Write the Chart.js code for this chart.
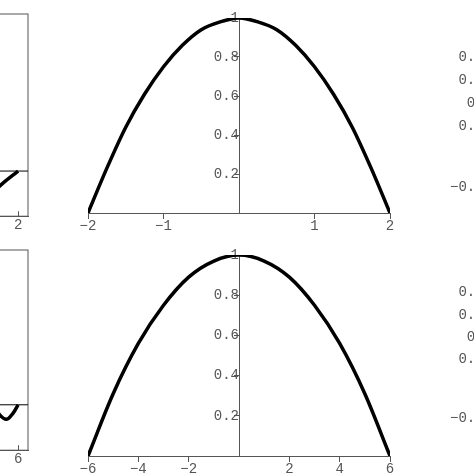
<!DOCTYPE html>
<html><head><script src="https://cdn.jsdelivr.net/npm/chart.js@4"></script>
<style>body{margin:0;width:474px;height:474px;overflow:hidden;background:#fff;position:relative}
.c{position:absolute}</style></head><body>
<div class="c" style="left:60px;top:0;width:350px;height:240px"><canvas id="topMid"></canvas></div>
<div class="c" style="left:60px;top:240px;width:350px;height:234px"><canvas id="botMid"></canvas></div>
<div class="c" style="left:-180px;top:0;width:210px;height:240px"><canvas id="topLeft"></canvas></div>
<div class="c" style="left:-180px;top:240px;width:210px;height:234px"><canvas id="botLeft"></canvas></div>
<div class="c" style="left:410px;top:0;width:200px;height:240px"><canvas id="topRight"></canvas></div>
<div class="c" style="left:410px;top:240px;width:200px;height:234px"><canvas id="botRight"></canvas></div>
<script>
const topX = [-2, -1.75, -1.5, -1.25, -1, -0.75, -0.5, -0.25, 0, 0.25, 0.5, 0.75, 1, 1.25, 1.5, 1.75, 2];
const topY = [0, 0.23, 0.44, 0.61, 0.75, 0.86, 0.94, 0.98, 1, 0.98, 0.94, 0.86, 0.75, 0.61, 0.44, 0.23, 0];
const botX = [-6, -5, -4, -3, -2, -1, 0, 1, 2, 3, 4, 5, 6];
const botY = [0, 0.31, 0.56, 0.75, 0.89, 0.97, 1, 0.97, 0.89, 0.75, 0.56, 0.31, 0];
const topXTicks = [-2, -1, 1, 2];
const botXTicks = [-6, -4, -2, 2, 4, 6];
const yTicks = [0.2, 0.4, 0.6, 0.8, 1];
const leftTopX = [1.55, 1.7, 1.85, 2];
const leftTopY = [-0.19, -0.13, -0.06, 0];
const leftBotX = [5.25, 5.45, 5.65, 5.85, 6];
const leftBotY = [0, -0.05, -0.07, -0.04, 0];
const rightTicks = [-0.165, 0.1, 0.2, 0.3, 0.4];
const rightLabels = ["\u22120.2", "0.1", "0 ", "0.3", "0.4"];

const font = {family: "Liberation Mono", size: 14};
const ink = "#555";

function pts(xs, ys) { return xs.map((x, i) => ({x: x, y: ys[i]})); }

function midChart(id, xs, ys, xt, xmin, xmax, pad) {
  new Chart(document.getElementById(id), {
    type: "line",
    data: {datasets: [{data: pts(xs, ys), borderColor: "#000", borderWidth: 3.5, pointRadius: 0, cubicInterpolationMode: "monotone"}]},
    options: {
      animation: false, responsive: true, maintainAspectRatio: false,
      layout: {padding: pad},
      plugins: {legend: {display: false}, tooltip: {enabled: false}},
      scales: {
        x: {type: "linear", position: {y: 0}, min: xmin, max: xmax,
          afterBuildTicks: s => { s.ticks = xt.map(v => ({value: v})); },
          grid: {drawOnChartArea: false, tickLength: 5, color: ink},
          border: {color: ink}, ticks: {color: ink, font: font, padding: 0,
            callback: v => v < 0 ? "\u2212" + (-v) : String(v)}},
        y: {type: "linear", position: {x: 0}, min: 0, max: 1,
          afterBuildTicks: s => { s.ticks = yTicks.map(v => ({value: v})); },
          grid: {drawOnChartArea: false, tickLength: 5, color: ink},
          border: {color: ink}, ticks: {color: ink, font: font, padding: 0,
            callback: v => v === 1 ? "1" : String(v)}}
      }
    }
  });
}
midChart("topMid", topX, topY, topXTicks, -2, 2, {left: 28, right: 20, top: 18, bottom: 27});
midChart("botMid", botX, botY, botXTicks, -6, 6, {left: 28, right: 20, top: 15, bottom: 18});

const frame = {id: "frame", afterDraw(c) {
  const a = c.chartArea, g = c.ctx;
  g.save(); g.strokeStyle = ink; g.lineWidth = 1;
  g.strokeRect(a.left, a.top, a.right - a.left, a.bottom - a.top);
  const y0 = c.scales.y.getPixelForValue(0);
  g.strokeStyle = "#000"; g.beginPath(); g.moveTo(a.left, y0); g.lineTo(a.right, y0); g.stroke();
  g.restore();
}};

function leftChart(id, xs, ys, xt, xmax, ymin, ymax, pad) {
  new Chart(document.getElementById(id), {
    type: "line",
    data: {datasets: [{data: pts(xs, ys), borderColor: "#000", borderWidth: 3.5, pointRadius: 0, tension: 0.4}]},
    options: {
      animation: false, responsive: true, maintainAspectRatio: false,
      layout: {padding: pad},
      plugins: {legend: {display: false}, tooltip: {enabled: false}},
      scales: {
        x: {type: "linear", min: 0, max: xmax,
          afterBuildTicks: s => { s.ticks = [{value: xt}]; },
          grid: {drawOnChartArea: false, tickLength: -5, color: ink}, border: {color: ink},
          ticks: {color: ink, font: font, padding: 6}},
        y: {type: "linear", display: false, min: ymin, max: ymax}
      }
    },
    plugins: [frame]
  });
}
leftChart("topLeft", leftTopX, leftTopY, 2, 2.1, -0.23, 0.8, {top: 14, right: 2});
leftChart("botLeft", leftBotX, leftBotY, 6, 6.3, -0.22, 0.75, {top: 10, right: 2});

function rightChart(id, pad) {
  new Chart(document.getElementById(id), {
    type: "line",
    data: {datasets: [{data: []}]},
    options: {
      animation: false, responsive: true, maintainAspectRatio: false,
      layout: {padding: pad},
      plugins: {legend: {display: false}, tooltip: {enabled: false}},
      scales: {
        x: {type: "linear", display: false, min: 0, max: 1},
        y: {type: "linear", min: -0.3, max: 0.6, position: "left",
          afterBuildTicks: s => { s.ticks = rightTicks.map(v => ({value: v})); },
          grid: {display: false}, border: {display: false},
          ticks: {color: ink, font: font, padding: 0, autoSkip: false,
            callback: (v, i) => rightLabels[i]}}
      }
    }
  });
}
rightChart("topRight", {left: 40, top: 11, bottom: 22});
rightChart("botRight", {left: 40, top: 1, bottom: 26});
</script></body></html>
